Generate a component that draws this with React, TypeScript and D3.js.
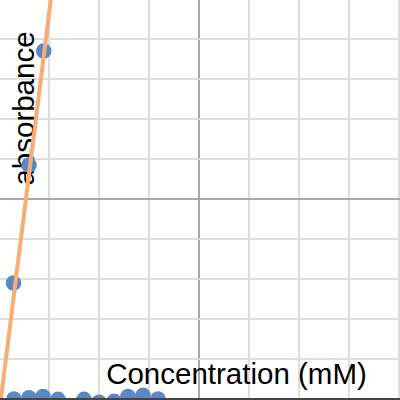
import React from "react";
import * as d3 from "d3";

// Data (concentration in grid units, absorbance)
const highConc = [0.29, 0.6, 0.894];
const highAbs = [2.9, 5.85, 8.7];
const lowConc = [0.3, 0.6, 0.88, 1.18, 1.7, 2.0, 2.3, 2.58, 2.88, 3.18];
const lowAbs = [0.0, 0.03, 0.06, -0.01, -0.01, -0.08, -0.06, 0.06, 0.09, 0.0];
const fitSlope = 10;
const fitIntercept = -0.38;
const xGridTicks = [1, 2, 3, 4, 5, 6, 7, 8];
const yGridTicks = [1, 2, 3, 4, 5, 6, 7, 8, 9, 10];
const xLabel = "Concentration (mM)";
const yLabel = "absorbance";

const W = 400;
const H = 400;

export default function App() {
  const x = d3.scaleLinear().domain([0, 8]).range([-1, 399]);
  const y = d3.scaleLinear().domain([0, 10]).range([399, -1]);

  const points = [
    ...highConc.map((c, i) => ({ c, a: highAbs[i] })),
    ...lowConc.map((c, i) => ({ c, a: lowAbs[i] })),
  ];

  const fitX = [0, 1.2];
  const line = d3
    .line<number>()
    .x((d) => x(d))
    .y((d) => y(fitSlope * d + fitIntercept));

  const font = "'Liberation Sans', Arial, Helvetica, sans-serif";

  return (
    <svg
      width={W}
      height={H}
      style={{ position: "fixed", left: 0, top: 0, background: "#fff" }}
    >
      <defs>
        <clipPath id="clip">
          <rect x={0} y={0} width={W} height={H} />
        </clipPath>
      </defs>
      <g clipPath="url(#clip)">
        {xGridTicks.map((t) => (
          <line
            key={"gx" + t}
            x1={x(t)}
            x2={x(t)}
            y1={0}
            y2={H}
            stroke={t === 4 ? "#a8a8a8" : "#dedede"}
            strokeWidth={2}
          />
        ))}
        {yGridTicks.map((t) => (
          <line
            key={"gy" + t}
            y1={y(t)}
            y2={y(t)}
            x1={0}
            x2={W}
            stroke={t === 5 ? "#a8a8a8" : "#dedede"}
            strokeWidth={2}
          />
        ))}
        <text
          x={236.5}
          y={384}
          textAnchor="middle"
          fontFamily={font}
          fontSize={29.5}
          fill="#000"
        >
          {xLabel}
        </text>
        <text
          transform={`translate(34,108.5) rotate(-90)`}
          textAnchor="middle"
          fontFamily={font}
          fontSize={29.5}
          fill="#000"
        >
          {yLabel}
        </text>
        {points.map((p, i) => (
          <circle
            key={"p" + i}
            cx={x(p.c)}
            cy={y(p.a)}
            r={7.8}
            fill="#5b87c5"
          />
        ))}
        <path
          d={line(fitX) || ""}
          fill="none"
          stroke="#f9ad76"
          strokeWidth={4}
        />
        <line
          x1={0}
          x2={W}
          y1={y(0) + 0.5}
          y2={y(0) + 0.5}
          stroke="#444"
          strokeWidth={3}
        />
      </g>
    </svg>
  );
}
